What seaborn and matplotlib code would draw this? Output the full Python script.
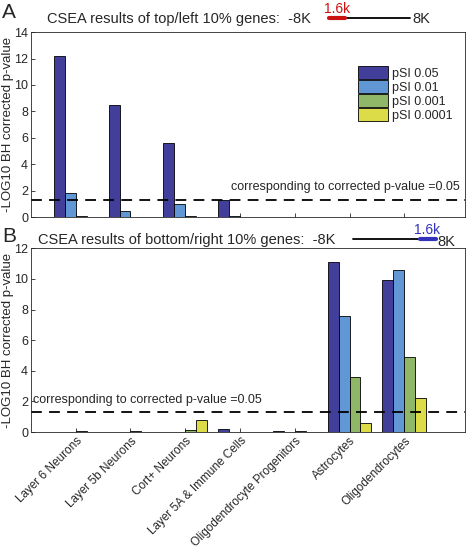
import numpy as np
import pandas as pd
import matplotlib
matplotlib.use("Agg")
import matplotlib.pyplot as plt
import seaborn as sns

sns.set_theme(style="ticks")
plt.rcParams["font.family"] = ["Liberation Sans", "DejaVu Sans"]

cell_types = ["Layer 6 Neurons", "Layer 5b Neurons", "Cort+ Neurons",
              "Layer 5A & Immune Cells", "Oligodendrocyte Progenitors",
              "Astrocytes", "Oligodendrocytes"]
thresholds = ["pSI 0.05", "pSI 0.01", "pSI 0.001", "pSI 0.0001"]
colors = ["#3330a8", "#4f95e8", "#8fc45a", "#f5f530"]

top_vals = [
    [12.2, 8.5, 5.6, 1.3, 0.0, 0.0, 0.0],
    [1.8, 0.5, 1.0, 0.1, 0.0, 0.0, 0.0],
    [0.1, 0.05, 0.1, 0.0, 0.0, 0.0, 0.0],
    [0.0, 0.0, 0.0, 0.0, 0.0, 0.0, 0.0],
]
bottom_vals = [
    [0.0, 0.0, 0.0, 0.2, 0.1, 11.1, 9.9],
    [0.0, 0.0, 0.0, 0.0, 0.0, 7.6, 10.6],
    [0.1, 0.1, 0.15, 0.0, 0.1, 3.6, 4.9],
    [0.0, 0.0, 0.8, 0.0, 0.0, 0.6, 2.2],
]
cutoff = 1.3


def to_df(vals):
    rows = []
    for t, series in zip(thresholds, vals):
        for c, v in zip(cell_types, series):
            rows.append({"cell": c, "pSI": t, "value": v})
    return pd.DataFrame(rows)


fig = plt.figure(figsize=(4.74, 5.54), dpi=100)
ax_a = fig.add_axes([0.065, 0.608, 0.915, 0.334])
ax_b = fig.add_axes([0.065, 0.22, 0.915, 0.332])

for ax, vals, ymax in [(ax_a, top_vals, 14), (ax_b, bottom_vals, 12)]:
    sns.barplot(data=to_df(vals), x="cell", y="value", hue="pSI",
                palette=colors, width=0.8, edgecolor="black", linewidth=0.6,
                ax=ax, legend=(ax is ax_a))
    ax.axhline(cutoff, color="black", ls=(0, (6, 4)), lw=1.3)
    ax.set_ylim(0, ymax)
    ax.set_yticks(range(0, ymax + 1, 2))
    ax.set_xlim(-0.82, 7.1)
    ax.set_xlabel("")
    ax.set_ylabel("-LOG10 BH corrected p-value", fontsize=9.5, labelpad=0)
    ax.tick_params(direction="in", labelsize=9, length=3, width=0.6, pad=2)
    for s in ax.spines.values():
        s.set_linewidth(0.6)

ax_a.set_xticklabels([])
ax_a.legend(loc="upper right", bbox_to_anchor=(0.99, 0.86), fontsize=9,
            frameon=False, handlelength=2.4, handleheight=1.3,
            handletextpad=0.3, labelspacing=0.0, borderaxespad=0.2)
ax_a.text(0.99, 0.13, "corresponding to corrected p-value =0.05",
          transform=ax_a.transAxes, ha="right", va="bottom", fontsize=9)
ax_b.text(0.005, 0.14, "corresponding to corrected p-value =0.05",
          transform=ax_b.transAxes, ha="left", va="bottom", fontsize=9)
ax_b.set_xticks(range(len(cell_types)))
ax_b.set_xticklabels(cell_types, rotation=45, ha="right", fontsize=8.5,
                     rotation_mode="anchor")

# panel titles and genomic window sketches
fig.text(0.005, 0.995, "A", fontsize=15, va="top")
fig.text(0.1, 0.965, "CSEA results of top/left 10% genes:  -8K", fontsize=10.5, va="center")
fig.text(0.87, 0.965, "8K", fontsize=10.5, va="center")
fig.add_artist(plt.Line2D([0.695, 0.865], [0.968, 0.968], color="black", lw=1.3))
fig.add_artist(plt.Line2D([0.695, 0.728], [0.968, 0.968], color="#cc1111", lw=3))
fig.text(0.712, 0.972, "1.6k", color="#cc1111", fontsize=10, ha="center", va="bottom")

fig.text(0.005, 0.59, "B", fontsize=15, va="top")
fig.text(0.08, 0.566, "CSEA results of bottom/right 10% genes:  -8K", fontsize=10.5, va="center")
fig.text(0.922, 0.563, "8K", fontsize=10.5, va="center")
fig.add_artist(plt.Line2D([0.745, 0.92], [0.568, 0.568], color="black", lw=1.3))
fig.add_artist(plt.Line2D([0.887, 0.92], [0.568, 0.568], color="#3333bb", lw=3))
fig.text(0.9, 0.573, "1.6k", color="#3333bb", fontsize=10, ha="center", va="bottom")

fig.savefig("out.png", dpi=100)
